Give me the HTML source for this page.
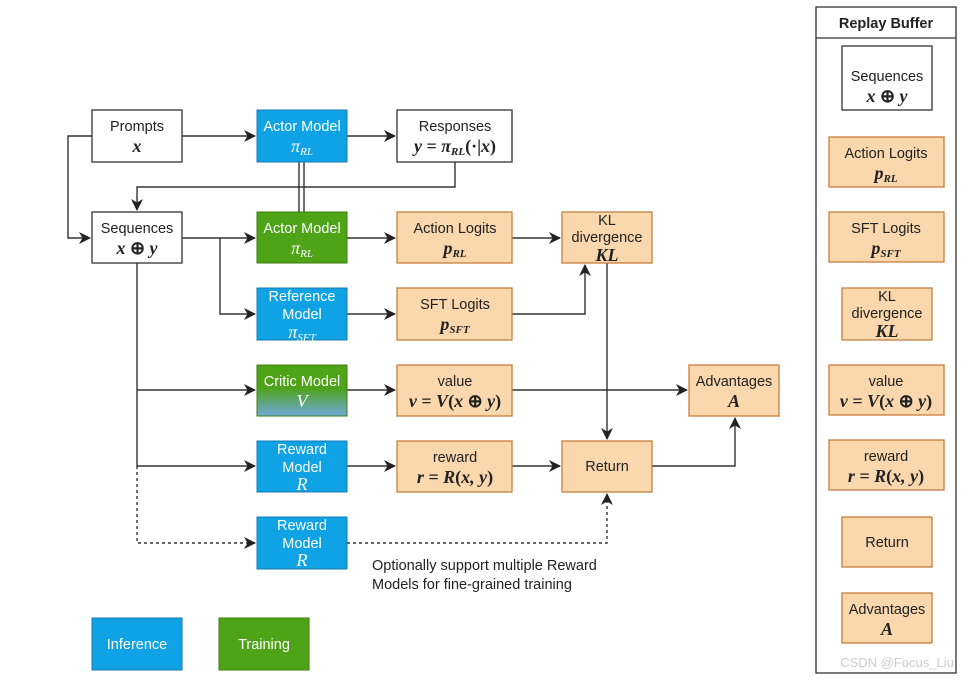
<!DOCTYPE html>
<html><head><meta charset="utf-8"><style>
html,body{margin:0;padding:0;background:#fff;}
svg{display:block;}
text{font-family:"Liberation Sans",sans-serif;font-size:14.5px;text-anchor:middle;fill:#222;}
.m{font-family:"Liberation Serif",serif;font-style:italic;font-size:18px;font-weight:600;}
.w{fill:#fff;}
.mw{font-family:"Liberation Serif",serif;font-style:italic;font-size:18px;fill:#fff;}
.wb{fill:#fff;stroke:#333;stroke-width:1.3;}
.or{fill:#fad7ac;stroke:#c57f3c;stroke-width:1.3;}
.bl{fill:#0fa3e6;stroke:#1a7ab0;stroke-width:1;}
.gr{fill:#4ea317;stroke:#3d7d12;stroke-width:1;}
.ln{fill:none;stroke:#333;stroke-width:1.4;}
.ds{fill:none;stroke:#333;stroke-width:1.4;stroke-dasharray:3,3;}
</style></head><body>
<svg width="978" height="682" viewBox="0 0 978 682" xmlns="http://www.w3.org/2000/svg">
<defs>
<marker id="a" markerWidth="12" markerHeight="12" refX="11" refY="6" orient="auto" markerUnits="userSpaceOnUse">
<path d="M0,0 L12,6 L0,12 L3.5,6 z" fill="#222"/></marker>
<linearGradient id="cg" x1="0" y1="0" x2="0" y2="1">
<stop offset="0.45" stop-color="#4ea317"/><stop offset="1" stop-color="#6fa8dc"/></linearGradient>
</defs>

<path class="ln" d="M92,136 H68 V238 H90" marker-end="url(#a)"/>
<path class="ln" d="M182,136 H255" marker-end="url(#a)"/>
<path class="ln" d="M347,136 H395" marker-end="url(#a)"/>
<path class="ln" d="M455,162 V187 H137 V210" marker-end="url(#a)"/>
<path class="ln" d="M299,162 V212 M304,162 V212"/>
<path class="ln" d="M182,238 H255" marker-end="url(#a)"/>
<path class="ln" d="M220,238 V314 H255" marker-end="url(#a)"/>
<path class="ln" d="M347,238 H395" marker-end="url(#a)"/>
<path class="ln" d="M347,314 H395" marker-end="url(#a)"/>
<path class="ln" d="M512,238 H560" marker-end="url(#a)"/>
<path class="ln" d="M512,314 H585 V265" marker-end="url(#a)"/>
<path class="ln" d="M607,263 V439" marker-end="url(#a)"/>
<path class="ln" d="M137,263 V466"/>
<path class="ln" d="M137,390 H255" marker-end="url(#a)"/>
<path class="ln" d="M137,466 H255" marker-end="url(#a)"/>
<path class="ds" d="M137,466 V543 H255" marker-end="url(#a)"/>
<path class="ln" d="M347,390 H395" marker-end="url(#a)"/>
<path class="ln" d="M512,390 H687" marker-end="url(#a)"/>
<path class="ln" d="M347,466 H395" marker-end="url(#a)"/>
<path class="ln" d="M512,466 H560" marker-end="url(#a)"/>
<path class="ln" d="M652,466 H735 V418" marker-end="url(#a)"/>
<path class="ds" d="M347,543 H607 V494" marker-end="url(#a)"/>

<rect class="wb" x="92" y="110" width="90" height="52"/>
<text x="137" y="131">Prompts</text><text class="m" x="137" y="152">x</text>
<rect class="bl" x="257" y="110" width="90" height="52"/>
<text class="w" x="302" y="131">Actor Model</text><text class="mw" x="302" y="152">π<tspan font-size="11" dy="3">RL</tspan></text>
<rect class="wb" x="397" y="110" width="115" height="52"/>
<text x="455" y="131">Responses</text><text class="m" x="455" y="152">y = π<tspan font-size="11" dy="3">RL</tspan><tspan dy="-3" font-style="normal">(·|</tspan>x<tspan font-style="normal">)</tspan></text>

<rect class="wb" x="92" y="212" width="90" height="51"/>
<text x="137" y="233">Sequences</text><text class="m" x="137" y="254">x <tspan font-style="normal">⊕</tspan> y</text>
<rect class="gr" x="257" y="212" width="90" height="51"/>
<text class="w" x="302" y="233">Actor Model</text><text class="mw" x="302" y="254">π<tspan font-size="11" dy="3">RL</tspan></text>
<rect class="or" x="397" y="212" width="115" height="51"/>
<text x="455" y="233">Action Logits</text><text class="m" x="455" y="254">p<tspan font-size="11" dy="3">RL</tspan></text>
<rect class="or" x="562" y="212" width="90" height="51"/>
<text x="607" y="225">KL</text><text x="607" y="242">divergence</text><text class="m" x="607" y="261">KL</text>

<rect class="bl" x="257" y="288" width="90" height="52"/>
<text class="w" x="302" y="301">Reference</text><text class="w" x="302" y="319">Model</text><text class="mw" x="302" y="338">π<tspan font-size="11" dy="3">SFT</tspan></text>
<rect class="or" x="397" y="288" width="115" height="52"/>
<text x="455" y="309">SFT Logits</text><text class="m" x="455" y="330">p<tspan font-size="11" dy="3">SFT</tspan></text>

<rect x="257" y="365" width="90" height="51" fill="url(#cg)" stroke="#3d7d12"/>
<text class="w" x="302" y="386">Critic Model</text><text class="mw" x="302" y="407">V</text>
<rect class="or" x="397" y="365" width="115" height="51"/>
<text x="455" y="386">value</text><text class="m" x="455" y="407">v = V<tspan font-style="normal">(</tspan>x <tspan font-style="normal">⊕</tspan> y<tspan font-style="normal">)</tspan></text>
<rect class="or" x="689" y="365" width="90" height="51"/>
<text x="734" y="386">Advantages</text><text class="m" x="734" y="407">A</text>

<rect class="bl" x="257" y="441" width="90" height="51"/>
<text class="w" x="302" y="454">Reward</text><text class="w" x="302" y="472">Model</text><text class="mw" x="302" y="490">R</text>
<rect class="or" x="397" y="441" width="115" height="51"/>
<text x="455" y="462">reward</text><text class="m" x="455" y="483">r = R<tspan font-style="normal">(</tspan>x, y<tspan font-style="normal">)</tspan></text>
<rect class="or" x="562" y="441" width="90" height="51"/>
<text x="607" y="471">Return</text>

<rect class="bl" x="257" y="517" width="90" height="52"/>
<text class="w" x="302" y="530">Reward</text><text class="w" x="302" y="548">Model</text><text class="mw" x="302" y="566">R</text>
<text x="372" y="570" style="text-anchor:start">Optionally support multiple Reward</text>
<text x="372" y="589" style="text-anchor:start">Models for fine-grained training</text>

<rect class="bl" x="92" y="618" width="90" height="52"/>
<text class="w" x="137" y="649">Inference</text>
<rect class="gr" x="219" y="618" width="90" height="52"/>
<text class="w" x="264" y="649">Training</text>

<rect x="816" y="7" width="140" height="666" fill="#fff" stroke="#333" stroke-width="1.3"/>
<line x1="816" y1="38" x2="956" y2="38" stroke="#333" stroke-width="1.3"/>
<text x="886" y="28" font-weight="bold">Replay Buffer</text>
<rect class="wb" x="842" y="46" width="90" height="64"/>
<text x="887" y="81">Sequences</text><text class="m" x="887" y="102">x <tspan font-style="normal">⊕</tspan> y</text>
<rect class="or" x="829" y="137" width="115" height="50"/>
<text x="886" y="158">Action Logits</text><text class="m" x="886" y="179">p<tspan font-size="11" dy="3">RL</tspan></text>
<rect class="or" x="829" y="212" width="115" height="50"/>
<text x="886" y="233">SFT Logits</text><text class="m" x="886" y="254">p<tspan font-size="11" dy="3">SFT</tspan></text>
<rect class="or" x="842" y="288" width="90" height="52"/>
<text x="887" y="301">KL</text><text x="887" y="318">divergence</text><text class="m" x="887" y="337">KL</text>
<rect class="or" x="829" y="365" width="115" height="50"/>
<text x="886" y="386">value</text><text class="m" x="886" y="407">v = V<tspan font-style="normal">(</tspan>x <tspan font-style="normal">⊕</tspan> y<tspan font-style="normal">)</tspan></text>
<rect class="or" x="829" y="440" width="115" height="50"/>
<text x="886" y="461">reward</text><text class="m" x="886" y="482">r = R<tspan font-style="normal">(</tspan>x, y<tspan font-style="normal">)</tspan></text>
<rect class="or" x="842" y="517" width="90" height="50"/>
<text x="887" y="547">Return</text>
<rect class="or" x="842" y="593" width="90" height="50"/>
<text x="887" y="614">Advantages</text><text class="m" x="887" y="635">A</text>
<text x="897" y="667" style="fill:#ccc;font-size:13px">CSDN @Focus_Liu</text>
</svg>
</body></html>
